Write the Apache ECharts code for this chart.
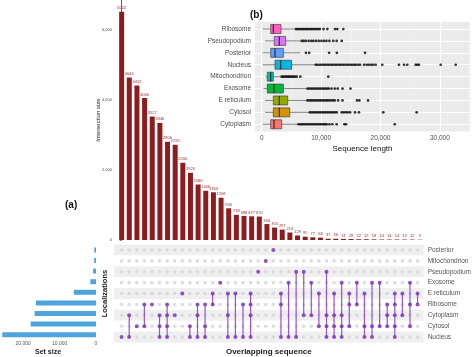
<!DOCTYPE html>
<html><head><meta charset="utf-8">
<script src="https://cdn.jsdelivr.net/npm/echarts@6/dist/echarts.min.js"></script>
<style>html,body{margin:0;padding:0;background:#fff}#c{width:474px;height:357px}</style>
</head><body><div id="c"></div>
<script>
// ---------- UpSet data ----------
const setNames = ['Posterior','Mitochondrion','Pseudopodium','Exosome','E reticulum','Ribosome','Cytoplasm','Cytosol','Nucleus'];
const setSizes = [470, 500, 800, 1550, 6100, 16500, 16850, 17950, 25750];
const setSizeTicks = [0, 10000, 20000];
const intersectionSizes = [6522,4644,4412,4060,3527,3346,2806,2720,2206,1920,1586,1406,1363,1208,906,718,688,677,670,456,355,297,214,129,95,77,68,37,36,31,28,22,22,18,14,14,14,13,12,9];
const intersectionTicks = [0, 2000, 4000, 6000];
const combos = [
 ['Nucleus'],
 ['Cytoplasm','Nucleus'],
 ['Cytosol'],
 ['Ribosome','Cytosol'],
 ['Ribosome'],
 ['Cytoplasm','Cytosol','Nucleus'],
 ['Ribosome','Cytoplasm','Cytosol','Nucleus'],
 ['Cytoplasm'],
 ['E reticulum'],
 ['Cytosol','Nucleus'],
 ['Ribosome','Cytoplasm','Nucleus'],
 ['Ribosome','Cytosol','Nucleus'],
 ['E reticulum','Ribosome'],
 ['Exosome'],
 ['E reticulum','Cytoplasm','Nucleus'],
 ['E reticulum','Nucleus'],
 ['Ribosome','Nucleus'],
 ['E reticulum','Ribosome','Cytoplasm','Nucleus'],
 ['Pseudopodium'],
 ['Mitochondrion'],
 ['Posterior'],
 ['E reticulum','Ribosome','Nucleus'],
 ['Exosome','Nucleus'],
 ['Pseudopodium','Nucleus'],
 ['Pseudopodium','Cytoplasm'],
 ['Exosome','Cytoplasm'],
 ['E reticulum','Cytosol'],
 ['Pseudopodium','Cytoplasm','Cytosol','Nucleus'],
 ['E reticulum','Cytoplasm','Cytosol','Nucleus'],
 ['Exosome','Cytoplasm','Cytosol','Nucleus'],
 ['E reticulum','Ribosome','Cytosol'],
 ['Exosome','Ribosome'],
 ['E reticulum','Cytosol','Nucleus'],
 ['Exosome','Cytosol','Nucleus'],
 ['Exosome','Cytosol'],
 ['Ribosome','Cytoplasm','Cytosol'],
 ['E reticulum','Ribosome','Cytoplasm','Cytosol','Nucleus'],
 ['E reticulum','Cytoplasm'],
 ['Exosome','Ribosome','Cytosol'],
 ['E reticulum','Ribosome']
];

// ---------- Inset boxplot data ----------
const boxCats = ['Ribosome','Pseudopodium','Posterior','Nucleus','Mitochondrion','Exosome','E reticulum','Cytosol','Cytoplasm'];
const boxMin = [170, 555, 170, 170, 650, 300, 555, 555, 170];
const boxQ1  = [1515, 2120, 1515, 2240, 940, 940, 1960, 1960, 1515];
const boxMed = [1960, 2960, 2240, 3200, 1515, 2070, 2960, 2960, 2070];
const boxQ3  = [3250, 4040, 3650, 5050, 1960, 3650, 4380, 4720, 3370];
const boxMax = [5720, 6450, 6500, 8970, 3200, 7580, 7580, 8010, 6110];
const outRibosome = [5780,6010,6290,6540,6820,7060,7330,7610,7850,8140,8390,8660,8940,9210,9480,9790,10400,11050,12340,12730,13740];
const outPseudopodium = [6730,7050,7420,7900,8350,8700,9150,9600,10050,10480,10900,11400,12050,12620,13470];
const outPosterior = [7450,8000,11350,12650,17400];
const outNucleus = [9100,9400,9750,10050,10400,10700,11050,11350,11700,12000,12350,12650,13000,13300,13650,13950,14300,14600,14950,15250,15600,15820,16200,16550,17220,17680,18060,18450,18790,19190,20300,23110,23960,24510,25920,26200,26480,30130,32660];
const outMitochondrion = [3350,3600,3850,4100,4350,4600,4850,5100,5350,5600,5900,6500,11210];
const outExosome = [7700,8000,8300,8600,8900,9200,9500,9800,10100,10400,10700,11000,11300,11750,12300,12800,13600,14950];
const outEreticulum = [7700,8000,8300,8600,8900,9200,9500,9800,10100,10400,10700,11000,11300,11650,12000,12300,12870,13600,16050,16440,17900];
const outCytosol = [8100,8400,8700,9000,9300,9600,9900,10200,10500,10800,11100,11400,11700,12000,12300,12630,13470,13800,14150,14500,14870,15710,16380,20470,26090];
const outCytoplasm = [6200,6500,6800,7100,7400,7700,8000,8300,8600,8900,9200,9500,9800,10100,10400,10660,10950,11400,11900,12620,13920,14200,22390];
const boxOutliers = [outRibosome,outPseudopodium,outPosterior,outNucleus,outMitochondrion,outExosome,outEreticulum,outCytosol,outCytoplasm];
const seqTicks = [0, 10000, 20000, 30000];
const seqMinor = [5000, 15000, 25000, 35000];

// ---------- styles ----------
const FONT = 'Liberation Sans, Arial, sans-serif';
const boxColors = ['#FF61C3','#DB72FB','#619CFF','#00B9E3','#00C19F','#00BA38','#93AA00','#D39200','#F8766D'];
const barRed = '#8E1C1F';
const purple = '#7B2FBF';

const chart = echarts.init(document.getElementById('c'), null, {renderer:'canvas'});

const bgDots = [];
intersectionSizes.forEach((_, i) => setNames.forEach((_, j) => bgDots.push([i, j])));
const activeDots = [];
const linkData = [];
combos.forEach((c, i) => {
  const idx = c.map(n => setNames.indexOf(n));
  idx.forEach(j => activeDots.push([i, j]));
  linkData.push([i, Math.min(...idx), Math.max(...idx)]);
});
const outData = [];
boxOutliers.forEach((arr, i) => arr.forEach(v => outData.push([v, i])));

const option = {
  animation: false,
  textStyle: {fontFamily: FONT},
  grid: [
    {left: 114, top: 0, width: 312, height: 240},
    {left: 114, top: 244.6, width: 312, height: 97.9},
    {left: 0, top: 244.6, width: 96, height: 97.9},
    {left: 255, top: 21.9, width: 215, height: 109.5, show: true, backgroundColor: '#EBEBEB', borderWidth: 0}
  ],
  xAxis: [
    {gridIndex: 0, type: 'value', min: -1, max: 39.8, show: false},
    {gridIndex: 1, type: 'value', min: -1, max: 39.8,
     axisLine: {show: false}, axisTick: {show: false}, axisLabel: {show: false}, splitLine: {show: false},
     name: 'Overlapping sequence', nameLocation: 'middle', nameGap: 5,
     nameTextStyle: {fontSize: 8, fontWeight: 'bold', color: '#222', fontFamily: FONT}},
    {gridIndex: 2, type: 'value', inverse: true, min: 0, max: 26374,
     axisLine: {show: false}, axisTick: {show: false}, splitLine: {show: false},
     axisLabel: {customValues: setSizeTicks, fontSize: 5, color: '#555', margin: 1},
     name: 'Set size', nameLocation: 'middle', nameGap: 9,
     nameTextStyle: {fontSize: 7, fontWeight: 'bold', color: '#222', fontFamily: FONT}},
    {gridIndex: 3, type: 'value', min: -1128, max: 35067,
     axisLine: {show: false}, splitLine: {show: false},
     axisTick: {customValues: seqTicks, length: 2.5, lineStyle: {color: '#333', width: 0.6}},
     axisLabel: {customValues: seqTicks, fontSize: 6.5, color: '#4d4d4d', margin: 3},
     name: 'Sequence length', nameLocation: 'middle', nameGap: 13,
     nameTextStyle: {fontSize: 8, color: '#111', fontFamily: FONT}}
  ],
  yAxis: [
    {gridIndex: 0, type: 'value', min: 0, max: 6857,
     axisLine: {show: true, lineStyle: {color: '#333', width: 0.8}},
     axisTick: {show: true, customValues: intersectionTicks, length: 2, lineStyle: {color: '#333', width: 0.6}},
     axisLabel: {customValues: intersectionTicks, fontSize: 4, color: '#4d4d4d', margin: 2},
     splitLine: {show: false},
     name: 'Intersection size', nameLocation: 'middle', nameGap: 13, nameMoveOverlap: false,
     nameTextStyle: {fontSize: 6, color: '#222', fontFamily: FONT}},
    {gridIndex: 1, type: 'category', data: setNames, inverse: true, position: 'right',
     axisLine: {show: false}, axisTick: {show: false}, splitLine: {show: false},
     axisLabel: {fontSize: 6.5, color: '#555', margin: 4},
     splitArea: {show: true, areaStyle: {color: ['#EFEFEF', '#FFFFFF']}}},
    {gridIndex: 1, type: 'category', data: setNames, inverse: true, position: 'left',
     axisLine: {show: false}, axisTick: {show: false}, axisLabel: {show: false}, splitLine: {show: false},
     name: 'Localizations', nameLocation: 'middle', nameGap: 5, nameRotate: 90,
     nameTextStyle: {fontSize: 7.5, fontWeight: 'bold', color: '#222', fontFamily: FONT}},
    {gridIndex: 2, type: 'category', data: setNames, inverse: true, show: false},
    {gridIndex: 3, type: 'value', min: -0.6, max: 8.6, inverse: true,
     axisLine: {show: false}, splitLine: {show: false},
     axisTick: {customValues: [0,1,2,3,4,5,6,7,8], length: 2.5, lineStyle: {color: '#333', width: 0.6}},
     axisLabel: {customValues: [0,1,2,3,4,5,6,7,8], formatter: v => boxCats[Math.round(v)], fontSize: 6.5, color: '#4d4d4d', margin: 4}}
  ],
  series: [
    {type: 'bar', xAxisIndex: 0, yAxisIndex: 0, barWidth: 5,
     data: intersectionSizes.map((v, i) => [i, v]),
     itemStyle: {color: barRed},
     label: {show: true, position: 'top', distance: 1.5, fontSize: 4, color: '#9a2a2a', formatter: p => p.value[1]}},
    {type: 'scatter', xAxisIndex: 1, yAxisIndex: 1, data: bgDots, symbolSize: 3.6,
     itemStyle: {color: '#D4D4D4'}, silent: true},
    {type: 'custom', xAxisIndex: 1, yAxisIndex: 1, data: linkData, z: 3,
     renderItem: (params, api) => {
       const a = api.coord([api.value(0), api.value(1)]);
       const b = api.coord([api.value(0), api.value(2)]);
       return {type: 'line', shape: {x1: a[0], y1: a[1], x2: b[0], y2: b[1]},
               style: {stroke: '#9655CF', lineWidth: 1.2}};
     }},
    {type: 'scatter', xAxisIndex: 1, yAxisIndex: 1, data: activeDots, symbolSize: 4, z: 4,
     itemStyle: {color: purple}},
    {type: 'bar', xAxisIndex: 2, yAxisIndex: 3, barWidth: 5,
     data: setSizes, itemStyle: {color: '#4FA3DD'}},
    {type: 'scatter', xAxisIndex: 3, yAxisIndex: 4, data: [], z: 1, silent: true,
     markLine: {silent: true, z: 1, symbol: ['none','none'], label: {show: false},
       data: [
         ...seqMinor.map(v => ({xAxis: v, lineStyle: {color: '#F5F5F5', width: 0.5, type: 'solid'}})),
         ...seqTicks.map(v => ({xAxis: v, lineStyle: {color: '#FFFFFF', width: 1, type: 'solid'}})),
         ...boxCats.map((c, i) => ({yAxis: i, lineStyle: {color: '#FFFFFF', width: 1, type: 'solid'}}))
       ]}},
    {type: 'custom', xAxisIndex: 3, yAxisIndex: 4, z: 6,
     data: boxCats.map((c, i) => [i, boxMin[i], boxQ1[i], boxMed[i], boxQ3[i], boxMax[i]]),
     renderItem: (params, api) => {
       const i = api.value(0);
       const x = k => api.coord([api.value(k), i])[0];
       const yc = api.coord([0, i])[1];
       const h = 9;
       const st = {stroke: '#333', lineWidth: 0.6};
       return {type: 'group', children: [
         {type: 'line', shape: {x1: x(1), y1: yc, x2: x(2), y2: yc}, style: st},
         {type: 'line', shape: {x1: x(4), y1: yc, x2: x(5), y2: yc}, style: st},
         {type: 'rect', shape: {x: x(2), y: yc - h/2, width: x(4) - x(2), height: h},
          style: {fill: boxColors[i], stroke: '#333', lineWidth: 0.6}},
         {type: 'line', shape: {x1: x(3), y1: yc - h/2, x2: x(3), y2: yc + h/2}, style: {stroke: '#222', lineWidth: 1.1}}
       ]};
     }},
    {type: 'scatter', xAxisIndex: 3, yAxisIndex: 4, data: outData, symbolSize: 2.7, z: 7,
     itemStyle: {color: '#000'}}
  ],
  graphic: [
    {type: 'text', left: 65, top: 200, style: {text: '(a)', font: 'bold 10px ' + FONT, fill: '#111'}},
    {type: 'text', left: 250, top: 10, style: {text: '(b)', font: 'bold 10px ' + FONT, fill: '#111'}}
  ]
};
chart.setOption(option);
</script>
</body></html>
